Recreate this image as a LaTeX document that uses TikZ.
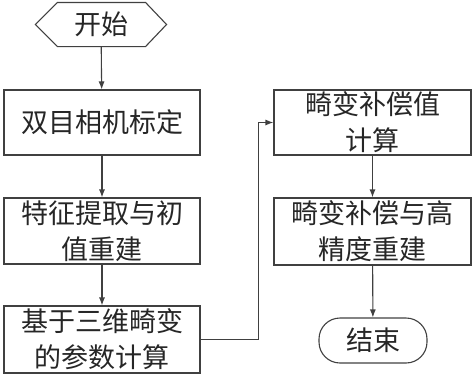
\documentclass[tikz,border=0pt]{standalone}
\usepackage{fontspec}
\newfontfamily\cjk{Noto Sans CJK SC}
\usetikzlibrary{arrows.meta,calc}
\begin{document}
\begin{tikzpicture}[x=1pt,y=-1pt,
  line width=1.1pt,
  every node/.style={font=\cjk\fontsize{27}{36}\selectfont, text=black!85, inner sep=0pt},
  procbox/.style={draw=black!75, minimum width=196pt, minimum height=65pt, align=center},
  arr/.style={draw=black!75, -{Latex[length=8pt,width=6pt]}}]
\useasboundingbox (0,0) rectangle (474,376);
\node (start) [minimum width=130pt, minimum height=43pt] at (101,24.5) {开始};
\draw[black!75] (start.west) -- ($(start.north west)+(22,0)$) -- ($(start.north east)+(-21,0)$) -- (start.east) -- ($(start.south east)+(-21,0)$) -- ($(start.south west)+(22,0)$) -- cycle;
\node (b1) [procbox] at (102,122.5) {双目相机标定};
\node (b2) [procbox, minimum height=66pt] at (102,231) {特征提取与初\\值重建};
\node (b3) [procbox, minimum height=67pt] at (102,339.5) {基于三维畸变\\的参数计算};
\node (b4) [procbox, minimum width=197pt] at (372.5,122.5) {畸变补偿值\\计算};
\node (b5) [procbox, minimum width=197pt, minimum height=67pt] at (372.5,231.5) {畸变补偿与高\\精度重建};
\node (end) [draw=black!75, rounded corners=21pt, minimum width=108pt, minimum height=45pt] at (373,340.5) {结束};
\draw[arr] (start) -- (b1);
\draw[arr] (b1) -- (b2);
\draw[arr] (b2) -- (b3);
\draw[arr] (b3.east) -- ++(58,0) |- (b4.west);
\draw[arr] (b4) -- (b5);
\draw[arr] (b5) -- (end);
\end{tikzpicture}
\end{document}
